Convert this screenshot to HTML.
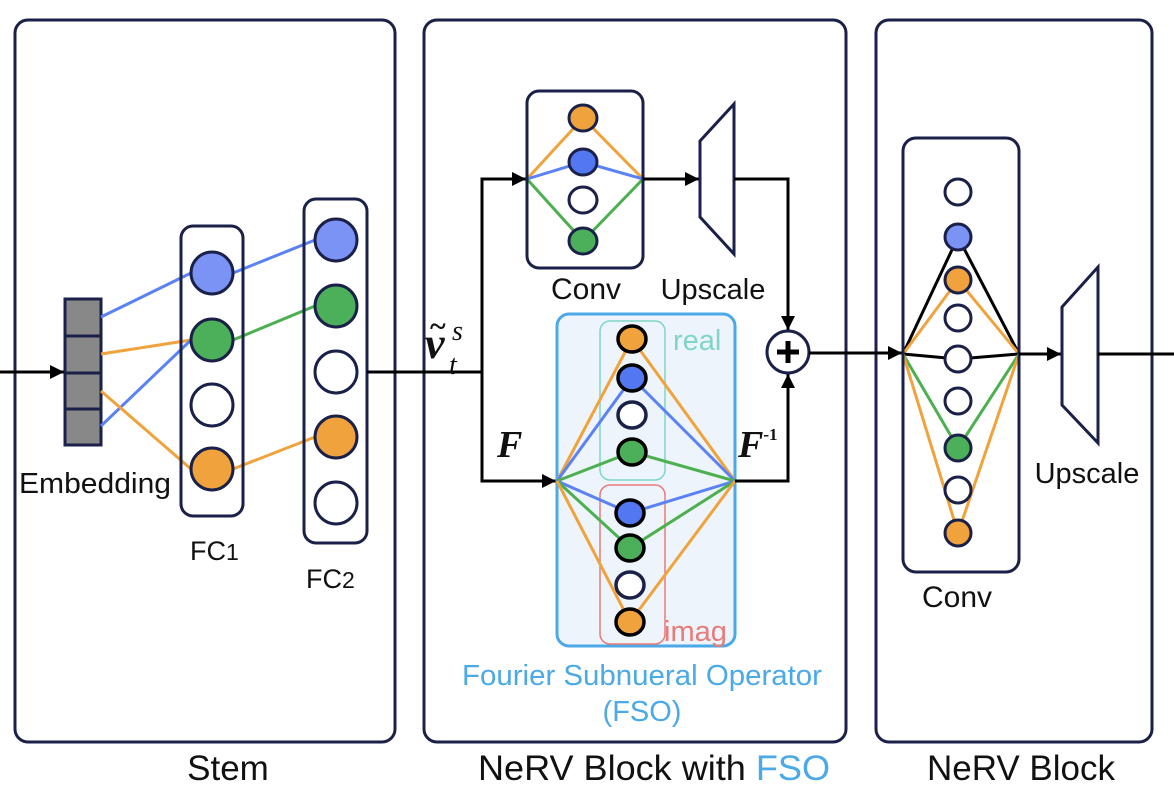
<!DOCTYPE html>
<html><head><meta charset="utf-8"><style>
html,body{margin:0;padding:0;background:#fff;}
svg{display:block;font-family:"Liberation Sans",Arial,sans-serif;}
</style></head><body>
<svg width="1174" height="796" viewBox="0 0 1174 796" xmlns="http://www.w3.org/2000/svg">
<defs>
<marker id="ahb" viewBox="0 0 10 10" markerWidth="18" markerHeight="14" refX="10" refY="5" orient="auto" markerUnits="userSpaceOnUse">
<path d="M0,0 L10,5 L0,10 z" fill="#000"/></marker>
</defs>
<!-- panels -->
<g fill="none" stroke="#1a2048" stroke-width="3">
<rect x="15" y="20" width="380" height="722" rx="13"/>
<rect x="424" y="20" width="422" height="722" rx="13"/>
<rect x="876" y="20" width="276" height="722" rx="13"/>
</g>
<!-- Stem -->
<line x1="0" y1="372" x2="64" y2="372" stroke="#000" stroke-width="3" marker-end="url(#ahb)"/>
<g stroke="#1a2048" stroke-width="3" fill="#888">
<rect x="65" y="299" width="36" height="37"/><rect x="65" y="336" width="36" height="37"/>
<rect x="65" y="373" width="36" height="36"/><rect x="65" y="409" width="36" height="36"/>
</g>
<g stroke-width="3" fill="none">
<line x1="101" y1="317" x2="191" y2="273" stroke="#5b82f5"/>
<line x1="101" y1="354" x2="191" y2="340" stroke="#f0a33c"/>
<line x1="101" y1="426" x2="191" y2="340" stroke="#5b82f5"/>
<line x1="101" y1="391" x2="191" y2="469" stroke="#f0a33c"/>
<line x1="233" y1="273" x2="315" y2="240" stroke="#5b82f5"/>
<line x1="233" y1="340" x2="315" y2="306" stroke="#4caf50"/>
<line x1="233" y1="469" x2="315" y2="437" stroke="#f0a33c"/>
</g>
<rect x="181" y="226" width="62" height="290" rx="12" fill="none" stroke="#1a2048" stroke-width="3"/>
<rect x="304" y="199" width="63" height="344" rx="12" fill="none" stroke="#1a2048" stroke-width="3"/>
<g stroke="#1a2048" stroke-width="3">
<circle cx="212" cy="273" r="21" fill="#7b93f5"/><circle cx="212" cy="340" r="21" fill="#4caf5a"/>
<circle cx="212" cy="405" r="21" fill="#fff"/><circle cx="212" cy="469" r="21" fill="#f0a33c"/>
<circle cx="336" cy="240" r="21" fill="#7b93f5"/><circle cx="336" cy="306" r="21" fill="#4caf5a"/>
<circle cx="336" cy="372" r="21" fill="#fff"/><circle cx="336" cy="437" r="21" fill="#f0a33c"/>
<circle cx="336" cy="503" r="21" fill="#fff"/>
</g>
<text x="19" y="493" font-size="29" fill="#111" textLength="152" lengthAdjust="spacingAndGlyphs">Embedding</text>
<text x="190" y="560" font-size="27" fill="#111">FC<tspan font-size="23">1</tspan></text>
<text x="306" y="588" font-size="27" fill="#111">FC<tspan font-size="23">2</tspan></text>
<!-- main line to panel 2 -->
<polyline points="367,372 482,372" fill="none" stroke="#000" stroke-width="3"/>
<polyline points="482,372 482,179 526,179" fill="none" stroke="#000" stroke-width="3" marker-end="url(#ahb)"/>
<polyline points="482,372 482,481 556,481" fill="none" stroke="#000" stroke-width="3" marker-end="url(#ahb)"/>
<!-- Conv top -->
<g stroke-width="3" fill="none">
<polyline points="527,179 583,118 643,179" stroke="#f0a33c"/>
<polyline points="527,179 583,162 643,179" stroke="#5b82f5"/>
<polyline points="527,179 583,241 643,179" stroke="#4caf50"/>
</g>
<rect x="527" y="91" width="116" height="177" rx="12" fill="none" stroke="#1a2048" stroke-width="3"/>
<g stroke="#1a2048" stroke-width="3">
<ellipse cx="583" cy="118" rx="14" ry="13" fill="#f0a33c"/><ellipse cx="583" cy="162" rx="14" ry="13" fill="#5277f0"/>
<ellipse cx="583" cy="200" rx="14" ry="13" fill="#fff"/><ellipse cx="583" cy="241" rx="14" ry="13" fill="#4caf5a"/>
</g>
<line x1="643" y1="179" x2="699" y2="179" stroke="#000" stroke-width="3" marker-end="url(#ahb)"/>
<polygon points="700,141 734,104 734,254 700,217" fill="#fff" stroke="#1a2048" stroke-width="3"/>
<polyline points="734,179 788,179 788,330" fill="none" stroke="#000" stroke-width="3" marker-end="url(#ahb)"/>
<text x="586" y="299" font-size="30" fill="#111" text-anchor="middle">Conv</text>
<text x="713" y="299" font-size="29" fill="#111" text-anchor="middle">Upscale</text>
<!-- FSO -->
<rect x="557" y="314" width="178" height="332" rx="12" fill="#eef4fb" stroke="#4aa9e6" stroke-width="3"/>
<rect x="600" y="321" width="65" height="159" rx="10" fill="none" stroke="#7fd6c6" stroke-width="1.5"/>
<rect x="600" y="485" width="65" height="159" rx="10" fill="none" stroke="#e87b7b" stroke-width="1.5"/>
<g stroke-width="3" fill="none">
<polyline points="557,481 632,339 735,481" stroke="#f0a33c"/>
<polyline points="557,481 632,378 735,481" stroke="#5b82f5"/>
<polyline points="557,481 632,452 735,481" stroke="#4caf50"/>
<polyline points="557,481 630,513 735,481" stroke="#5b82f5"/>
<polyline points="557,481 630,548 735,481" stroke="#4caf50"/>
<polyline points="557,481 630,622 735,481" stroke="#f0a33c"/>
</g>
<g stroke="#000" stroke-width="3.5">
<ellipse cx="632" cy="339" rx="14" ry="13" fill="#f0a33c"/><ellipse cx="632" cy="378" rx="14" ry="13" fill="#5277f0"/>
<ellipse cx="632" cy="415" rx="14" ry="13" fill="#fff" stroke="#1a2048"/><ellipse cx="632" cy="452" rx="14" ry="13" fill="#4caf5a"/>
<ellipse cx="630" cy="513" rx="14" ry="13" fill="#5277f0"/><ellipse cx="630" cy="548" rx="14" ry="13" fill="#4caf5a"/>
<ellipse cx="630" cy="585" rx="14" ry="13" fill="#fff" stroke="#1a2048"/><ellipse cx="630" cy="622" rx="14" ry="13" fill="#f0a33c"/>
</g>
<text x="673" y="350" font-size="29" fill="#7fd6c6">real</text>
<text x="664" y="641" font-size="29" fill="#e87b7b">imag</text>
<polyline points="735,481 788,481 788,374" fill="none" stroke="#000" stroke-width="3" marker-end="url(#ahb)"/>
<circle cx="788" cy="352" r="21" fill="#fff" stroke="#1a2048" stroke-width="3"/>
<path d="M777,352 H799 M788,341 V363" stroke="#000" stroke-width="5"/>
<text x="497" y="457" font-size="38" font-style="italic" font-weight="bold" font-family="Liberation Serif,serif" fill="#111">F</text>
<text x="738" y="457" font-size="38" font-style="italic" font-weight="bold" font-family="Liberation Serif,serif" fill="#111">F<tspan font-size="17" font-style="normal" dy="-17">-1</tspan></text>
<text x="425" y="358" font-size="44" font-style="italic" font-weight="bold" font-family="Liberation Serif,serif" fill="#111">v</text>
<text x="430" y="336" font-size="30" font-weight="bold" font-family="Liberation Serif,serif" fill="#111">~</text>
<text x="449" y="374" font-size="28" font-style="italic" font-family="Liberation Serif,serif" fill="#111">t</text>
<text x="452" y="340" font-size="28" font-style="italic" font-family="Liberation Serif,serif" fill="#111">s</text>
<text x="642" y="685" font-size="29" fill="#4aa9e6" text-anchor="middle" textLength="360" lengthAdjust="spacingAndGlyphs">Fourier Subnueral Operator</text>
<text x="642" y="721" font-size="29" fill="#4aa9e6" text-anchor="middle">(FSO)</text>
<!-- to panel 3 -->
<line x1="809" y1="353" x2="902" y2="353" stroke="#000" stroke-width="3" marker-end="url(#ahb)"/>
<g stroke-width="3" fill="none">
<polyline points="903,354 958,237 1019,354" stroke="#000"/>
<polyline points="903,354 958,280 1019,354" stroke="#f0a33c"/>
<polyline points="903,354 958,359 1019,354" stroke="#000"/>
<polyline points="903,354 958,448 1019,354" stroke="#4caf50"/>
<polyline points="903,354 958,533 1019,354" stroke="#f0a33c"/>
</g>
<rect x="903" y="138" width="116" height="434" rx="13" fill="none" stroke="#1a2048" stroke-width="3"/>
<g stroke="#1a2048" stroke-width="3" fill="#fff">
<circle cx="958" cy="192" r="13"/><circle cx="958" cy="237" r="13" fill="#7b93f5"/>
<circle cx="958" cy="280" r="13" fill="#f0a33c"/><circle cx="958" cy="318" r="13"/>
<circle cx="958" cy="359" r="13"/><circle cx="958" cy="401" r="13"/>
<circle cx="958" cy="448" r="13" fill="#4caf5a"/><circle cx="958" cy="490" r="13"/>
<circle cx="958" cy="533" r="13" fill="#f0a33c"/>
</g>
<line x1="1019" y1="354" x2="1061" y2="354" stroke="#000" stroke-width="3" marker-end="url(#ahb)"/>
<polygon points="1062,307 1098,267 1098,443 1062,405" fill="#fff" stroke="#1a2048" stroke-width="3"/>
<line x1="1098" y1="354" x2="1174" y2="354" stroke="#000" stroke-width="3"/>
<text x="1087" y="483" font-size="29" fill="#111" text-anchor="middle">Upscale</text>
<text x="957" y="607" font-size="30" fill="#111" text-anchor="middle">Conv</text>
<!-- bottom labels -->
<text x="228" y="780" font-size="35" fill="#111" text-anchor="middle">Stem</text>
<text x="478" y="780" font-size="35" fill="#111" textLength="352" lengthAdjust="spacingAndGlyphs">NeRV Block with <tspan fill="#4aa9e6">FSO</tspan></text>
<text x="1021" y="780" font-size="35" fill="#111" text-anchor="middle">NeRV Block</text>
</svg>
</body></html>
